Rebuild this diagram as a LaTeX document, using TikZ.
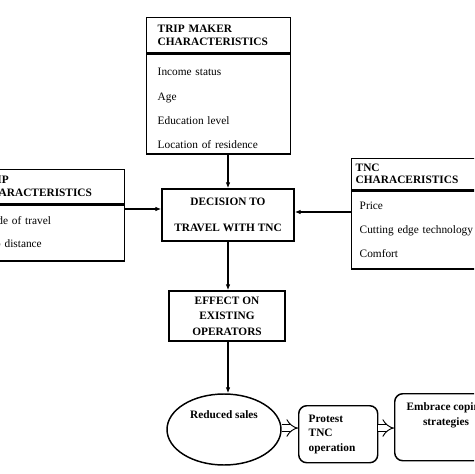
\documentclass[tikz,border=0pt]{standalone}
\usepackage{fontspec}
\setmainfont{Liberation Serif}
\usetikzlibrary{arrows.meta, shapes.geometric, positioning}

\begin{document}
\begin{tikzpicture}[x=0.75pt, y=-0.75pt, line width=1.1pt,
    every node/.style={font=\fontsize{8.5}{10}\selectfont},
    head/.style={draw, anchor=north west, align=left, inner ysep=0pt, font=\bfseries\fontsize{8.5}{9.75}\selectfont},
    body/.style={draw, anchor=north west, align=left, inner ysep=0pt},
    step box/.style={draw, align=center, inner sep=0pt, font=\bfseries\fontsize{8.5}{10}\selectfont},
    round box/.style={draw, anchor=north west, rounded corners=6pt, inner sep=0pt},
    arr/.style={-{Latex[length=4.5pt, width=3.5pt]}, line width=0.9pt},
    dbl/.style={double, double distance=4pt, line width=0.7pt, -{Implies}}]
    \path[use as bounding box, clip] (0,0) rectangle (474,474);
    \fill[white] (0,0) rectangle (474,474);

    % trip maker
    \node[head, inner xsep=8.25pt, text width=91.5pt, minimum height=26.25pt] (tmhead) at (146,17) {TRIP MAKER\\CHARACTERISTICS};
    \node[body, inner xsep=8.25pt, text width=91.5pt, minimum height=75pt, font=\fontsize{8.5}{18.2}\selectfont] (tmbody) at (tmhead.south west) {\rule{0pt}{12pt}Income status\\Age\\Education level\\Location of residence};

    % trip
    \node[head, inner xsep=8.25pt, text width=99pt, minimum height=25.5pt] (trhead) at (-30,169) {TRIP\\CHARACTERISTICS};
    \node[body, inner xsep=8.25pt, text width=99pt, minimum height=42pt, font=\fontsize{8.5}{17.25}\selectfont] (trbody) at (trhead.south west) {Mode of travel\\Trip distance};

    % tnc
    \node[head, inner xsep=3pt, text width=106.5pt, minimum height=23.25pt, font=\bfseries\fontsize{8.5}{9}\selectfont] (tnchead) at (351,158) {TNC\\CHARACERISTICS};
    \node[body, inner xsep=6pt, text width=100.5pt, minimum height=58.5pt, font=\fontsize{8.5}{18}\selectfont] (tncbody) at (tnchead.south west) {Price\\Cutting edge technology\\Comfort};

    % middle column
    \node[step box, minimum width=99pt, minimum height=39pt, font=\bfseries\fontsize{8.5}{19.5}\selectfont] (dec) at (228,215) {DECISION TO\\TRAVEL WITH TNC};
    \node[step box, minimum width=87pt, minimum height=37.5pt, font=\bfseries\fontsize{8.5}{11.6}\selectfont] (eff) at (227,316) {EFFECT ON\\EXISTING\\OPERATORS};

    % bottom row
    \node[draw, ellipse, minimum width=85.5pt, minimum height=53.25pt, inner sep=0pt] (red) at (224,429.5) {};
    \node[font=\bfseries\fontsize{8.5}{10}\selectfont] (redtxt) at (224,415) {Reduced sales};
    \node[round box, minimum width=59.25pt, minimum height=42.75pt, align=left, inner xsep=7.5pt, text width=44.25pt, font=\bfseries\fontsize{8.5}{10.9}\selectfont] (prot) at (298,405) {Protest\\TNC\\operation};
    \node[round box, minimum width=78pt, minimum height=50.25pt] (emb) at (394,393) {};
    \node[align=center, font=\bfseries\fontsize{8.5}{11.2}\selectfont] (embtxt) at (446,415.5) {Embrace coping\\strategies};

    \draw[arr] (dec.north |- tmbody.south) -- (dec.north);
    \draw[arr] ([yshift=4.5pt]dec.west -| trbody.east) -- ([yshift=4.5pt]dec.west);
    \draw[arr] ([yshift=2.25pt]dec.east -| tncbody.west) -- ([yshift=2.25pt]dec.east);
    \draw[arr] (dec.south) -- (dec.south |- eff.north);
    \draw[arr] (dec.south |- eff.south) -- (dec.south |- red.north);
    \draw[dbl] ([yshift=1.1pt]red.east) -- ([yshift=1.1pt]red.east -| prot.west);
    \draw[dbl] ([yshift=1.1pt]red.east -| prot.east) -- ([yshift=1.1pt]red.east -| emb.west);
\end{tikzpicture}
\end{document}
